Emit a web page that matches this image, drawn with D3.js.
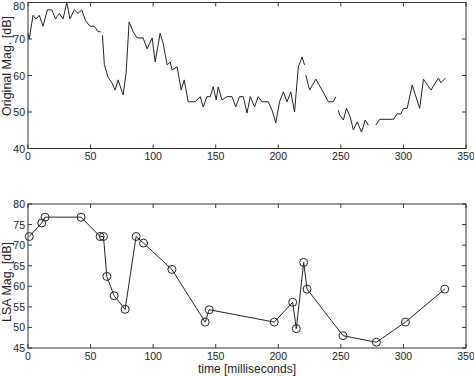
<!DOCTYPE html>
<html>
<head>
<meta charset="utf-8">
<script src="https://cdn.jsdelivr.net/npm/d3@7"></script>
<style>
  body { margin: 0; background: #fff; }
  svg text { font-family: "Liberation Sans", Arial, sans-serif; fill: #222; }
</style>
</head>
<body>
<svg id="chart" width="474" height="376"></svg>
<script>
// original magnitude track (null = gap in the line)
const origTime = [0, 1, 4, 6.5, 9, 12, 15.5, 19, 22, 25, 28, 31, 33.5, 37, 40, 43, 46, 49.5, 53, 56, 58, 59,
  59.5, 61, 64, 67, 69.6, 72, 76, 78.4, 80.8, 84, 87.2, 92, 95.2, 99.2, 101.6, 105.6, 108, 111.2, 113.6, 115.2,
  119.2, 122.4, 124.8, 128, 133.6, 137.6, 140, 143, 145.6, 148, 150.4, 152, 155, 159, 163, 166, 169, 172, 175,
  177.6, 181, 184, 187, 192, 195, 198, 201, 204, 207, 210, 213, 216, 219, 221, 221.5,
  222, 225, 230, 235, 240, 244, 246, 247,
  248, 249, 252, 254.5, 257.5, 260, 263, 266.5, 269.5, 272, 275,
  278, 281, 292, 295, 298, 300, 303, 307, 313, 316, 322, 328, 330, 333.5];
const origMag = [71.5, 70, 76.5, 75.5, 76.5, 73.5, 78, 78, 75.5, 77, 75.5, 80, 75.5, 78, 77, 78, 75, 73.5, 73.5, 72, 72, null,
  71, 63, 59.5, 58, 56, 58.8, 54.7, 60.7, 74.7, 72, 70.3, 70.3, 67.3, 70.3, 63.7, 71.6, 68.8, 62.9, 63.7, 61.5,
  62.4, 56, 58.8, 52.8, 52.8, 54.2, 51.4, 54.2, 54.2, 56.9, 53.3, 56.9, 53.3, 54.2, 54.2, 51.4, 54.2, 54.2, 49.7,
  54.2, 51.4, 54.2, 52.8, 52.8, 50.5, 47, 52.8, 55.5, 52.8, 55.5, 50, 62.3, 65.1, 62.9, null,
  60.1, 56, 59, 56, 52.8, 52.8, 54.2, null,
  50.5, 49.2, 47.8, 51, 48.6, 45.1, 47.3, 44.5, 47.8, 46.4, null,
  46.4, 48, 48, 49.5, 49.5, 51, 51, 57.4, 51, 59, 56, 59.3, 58, 59.3];

// LSA magnitude points
const lsaTime = [1, 11, 13.6, 42.4, 57.6, 60.3, 63, 68.8, 77.6, 86.4, 92.3, 115, 141.6, 144.8, 196.8,
  211.5, 214.4, 220.3, 223, 251.7, 278.4, 301.6, 333];
const lsaMag = [72.1, 75.4, 76.8, 76.8, 72.1, 72.1, 62.4, 57.7, 54.4, 72.1, 70.5, 64.1, 51.3, 54.3, 51.3,
  56.1, 49.7, 65.8, 59.3, 48.0, 46.4, 51.3, 59.3];

const xTicks = [0, 50, 100, 150, 200, 250, 300, 350];
const origTicks = [40, 50, 60, 70, 80];
const lsaTicks = [45, 50, 55, 60, 65, 70, 75, 80];

const svg = d3.select("#chart");
const left = 28, right = 466;
const x = d3.scaleLinear().domain([0, 350]).range([left, right]);

function panel(top, bottom, domain, ticks, label, labelY) {
  const y = d3.scaleLinear().domain(domain).range([bottom, top]);
  const g = svg.append("g");
  const tk = 4;

  g.append("rect")
    .attr("x", left).attr("y", top)
    .attr("width", right - left).attr("height", bottom - top)
    .attr("fill", "none").attr("stroke", "#333").attr("stroke-width", 1);

  // inward ticks on all four sides
  xTicks.forEach((t) => {
    g.append("line").attr("x1", x(t)).attr("x2", x(t)).attr("y1", bottom).attr("y2", bottom - tk).attr("stroke", "#333");
    g.append("line").attr("x1", x(t)).attr("x2", x(t)).attr("y1", top).attr("y2", top + tk).attr("stroke", "#333");
    g.append("text").attr("x", x(t)).attr("y", bottom + 11.5)
      .attr("text-anchor", "middle").attr("font-size", 10.5).text(t);
  });
  ticks.forEach((t) => {
    g.append("line").attr("x1", left).attr("x2", left + tk).attr("y1", y(t)).attr("y2", y(t)).attr("stroke", "#333");
    g.append("line").attr("x1", right).attr("x2", right - tk).attr("y1", y(t)).attr("y2", y(t)).attr("stroke", "#333");
    g.append("text").attr("x", left - 3).attr("y", Math.max(y(t) + 4, 9.5))
      .attr("text-anchor", "end").attr("font-size", 10.5).text(t);
  });

  g.append("text")
    .attr("transform", "translate(11," + labelY + ") rotate(-90)")
    .attr("text-anchor", "middle").attr("font-size", 12.5).text(label);
  return y;
}

const y1 = panel(2.5, 148.5, [40, 80], origTicks, "Original Mag. [dB]", 66);
const y2 = panel(204, 348, [45, 80], lsaTicks, "LSA Mag. [dB]", 282);

const origData = origTime.map((t, i) => [t, origMag[i]]);
svg.append("path")
  .datum(origData)
  .attr("fill", "none").attr("stroke", "#222").attr("stroke-width", 1)
  .attr("d", d3.line().defined((d) => d[1] !== null).x((d) => x(d[0])).y((d) => y1(d[1])));

const lsaData = lsaTime.map((t, i) => [t, lsaMag[i]]);
svg.append("path")
  .datum(lsaData)
  .attr("fill", "none").attr("stroke", "#222").attr("stroke-width", 1)
  .attr("d", d3.line().x((d) => x(d[0])).y((d) => y2(d[1])));

svg.selectAll("circle.lsa")
  .data(lsaData).enter().append("circle")
  .attr("class", "lsa")
  .attr("cx", (d) => x(d[0])).attr("cy", (d) => y2(d[1])).attr("r", 4)
  .attr("fill", "none").attr("stroke", "#222").attr("stroke-width", 1);

svg.append("text")
  .attr("x", 247).attr("y", 373)
  .attr("text-anchor", "middle").attr("font-size", 12).text("time [milliseconds]");
</script>
</body>
</html>
